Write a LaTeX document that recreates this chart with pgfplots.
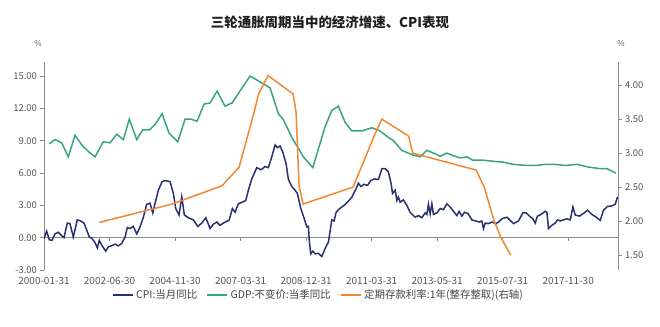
\documentclass[border=0pt]{standalone}
\usepackage{fontspec}
\setmainfont{Noto Sans CJK SC}
\usepackage{pgfplots}
\usepackage{pgfplotstable}
\pgfplotsset{compat=1.18}
\definecolor{cpi}{HTML}{2B306E}
\definecolor{gdp}{HTML}{38A480}
\definecolor{depo}{HTML}{F08832}
\definecolor{axisgray}{HTML}{8C8C8C}
\definecolor{tickgray}{HTML}{555555}
\definecolor{leggray}{HTML}{444444}

% x = position on the category axis (one unit = one labelled tick interval)
\pgfplotstableread{
x y
0.000 -0.10
0.041 0.60
0.081 -0.20
0.122 -0.25
0.168 0.35
0.218 0.50
0.285 0.10
0.305 0.00
0.356 1.35
0.397 1.30
0.447 0.05
0.508 1.65
0.560 1.55
0.611 1.35
0.652 0.70
0.692 0.05
0.728 -0.05
0.779 -0.45
0.814 -0.95
0.844 -0.25
0.881 -0.70
0.942 -1.25
0.982 -0.85
1.034 -0.75
1.084 -0.60
1.134 -0.75
1.186 -0.55
1.237 0.05
1.272 0.95
1.313 0.85
1.363 1.05
1.415 0.35
1.466 1.00
1.516 1.90
1.568 3.10
1.618 3.20
1.660 2.30
1.695 3.20
1.745 4.40
1.802 5.20
1.847 5.30
1.924 5.20
1.974 4.10
2.011 2.70
2.061 2.10
2.102 3.80
2.142 2.10
2.203 1.85
2.279 1.65
2.347 1.05
2.408 1.35
2.469 1.85
2.534 0.85
2.585 1.25
2.637 1.45
2.687 1.15
2.763 1.45
2.824 1.60
2.875 2.70
2.916 2.35
2.966 3.15
3.027 3.30
3.079 3.45
3.119 4.40
3.171 5.45
3.247 6.50
3.313 6.30
3.374 6.60
3.424 6.50
3.476 7.50
3.527 8.60
3.562 8.35
3.603 8.50
3.644 7.95
3.695 6.85
3.730 5.40
3.782 4.75
3.832 4.40
3.867 4.10
3.919 2.70
3.959 2.00
4.011 1.00
4.035 1.05
4.050 -0.40
4.072 -1.50
4.102 -1.25
4.137 -1.50
4.188 -1.45
4.240 -1.75
4.290 -1.00
4.341 -0.40
4.392 1.65
4.427 1.55
4.458 2.35
4.493 2.60
4.545 2.85
4.580 3.00
4.631 3.30
4.698 3.75
4.763 4.55
4.798 5.05
4.835 4.75
4.885 4.95
4.936 4.85
4.988 5.30
5.038 5.45
5.104 5.40
5.156 6.40
5.206 6.40
5.256 6.10
5.298 5.00
5.318 4.10
5.359 4.40
5.385 3.45
5.409 3.75
5.435 3.30
5.485 3.50
5.537 3.00
5.588 2.35
5.664 1.90
5.715 2.05
5.766 1.85
5.817 2.30
5.843 2.15
5.867 3.10
5.893 2.20
5.919 3.15
5.944 2.15
5.995 2.30
6.046 2.70
6.096 2.60
6.148 3.15
6.198 2.85
6.249 2.45
6.301 2.05
6.336 2.45
6.377 2.00
6.417 2.35
6.469 2.25
6.530 1.65
6.591 1.55
6.641 1.45
6.682 1.55
6.707 0.85
6.733 1.35
6.783 1.30
6.835 1.45
6.896 1.30
6.936 1.45
6.988 1.75
7.064 1.90
7.165 1.30
7.241 1.55
7.308 2.30
7.359 2.30
7.409 2.00
7.461 1.75
7.496 1.35
7.531 2.00
7.583 2.15
7.649 2.45
7.675 2.35
7.699 0.85
7.751 1.15
7.802 1.35
7.837 1.65
7.878 1.55
7.928 1.65
7.980 1.75
8.031 1.65
8.072 2.85
8.107 2.10
8.173 2.00
8.234 2.25
8.295 2.55
8.362 2.15
8.427 1.90
8.489 1.60
8.539 2.55
8.600 2.90
8.667 2.95
8.718 3.10
8.753 3.80
}\cpitable

\pgfplotstableread{
x y
0.081 8.7
0.168 9.1
0.270 8.8
0.371 7.5
0.473 9.5
0.576 8.6
0.676 8.0
0.779 7.5
0.905 8.9
1.008 8.8
1.110 9.6
1.211 9.1
1.302 11.0
1.415 9.1
1.507 10.0
1.608 10.0
1.695 10.5
1.802 11.5
1.908 9.7
2.041 8.9
2.153 11.0
2.244 11.0
2.336 10.8
2.443 12.4
2.534 12.5
2.641 13.6
2.763 12.2
2.870 12.5
3.145 15.0
3.450 13.9
3.577 11.5
3.653 10.95
3.782 9.3
3.959 7.5
4.102 6.5
4.290 10.3
4.392 11.8
4.493 12.2
4.595 10.7
4.698 9.9
4.850 9.9
5.003 10.2
5.130 9.9
5.256 9.3
5.333 9.0
5.461 8.1
5.614 7.7
5.740 7.5
5.843 8.1
5.944 7.85
6.046 7.55
6.148 7.85
6.249 7.6
6.351 7.4
6.453 7.5
6.539 7.2
6.682 7.2
6.835 7.1
7.012 7.0
7.165 6.8
7.369 6.7
7.496 6.7
7.649 6.8
7.802 6.8
7.954 6.7
8.133 6.8
8.310 6.55
8.489 6.4
8.591 6.4
8.728 6.0
}\gdptable

\pgfplotstableread{
x y
0.844 1.98
1.954 2.25
2.718 2.52
2.977 2.79
3.053 3.06
3.130 3.33
3.206 3.60
3.275 3.87
3.420 4.14
3.802 3.87
3.847 3.60
3.893 2.52
3.954 2.25
4.718 2.50
4.824 2.75
4.931 3.00
5.038 3.25
5.156 3.50
5.565 3.25
5.626 3.00
6.595 2.75
6.718 2.50
6.794 2.25
6.870 2.00
6.977 1.75
7.122 1.50
}\depotable

\begin{document}
\begin{tikzpicture}
\useasboundingbox (0,0) rectangle (660bp,327bp);
\node[font=\fontsize{13.5}{15}\selectfont\bfseries, text=black!88] at (330bp,305bp) {三轮通胀周期当中的经济增速、CPI表现};
\node[font=\fontsize{8}{9}\selectfont, text=tickgray] at (38bp,283bp) {\%};
\node[font=\fontsize{8}{9}\selectfont, text=tickgray] at (621bp,283bp) {\%};

\begin{axis}[
  at={(44bp,57bp)}, anchor=south west,
  scale only axis, width=574bp, height=208bp,
  xmin=0, xmax=8.76, ymin=-3, ymax=16.3,
  axis x line*=bottom, axis y line*=left,
  x axis line style={draw=none},
  y axis line style={draw=axisgray, line width=0.8bp},
  xtick={0,1,2,3,4,5,6,7,8},
  xticklabels={2000-01-31,2002-06-30,2004-11-30,2007-03-31,2008-12-31,2011-03-31,2013-05-31,2015-07-31,2017-11-30},
  x tick style={draw=none},
  ytick={-3,0,3,6,9,12,15},
  y tick style={draw=axisgray, line width=0.8bp},
  tick align=outside, major tick length=3.5bp,
  xticklabel style={font=\fontsize{10}{11}\selectfont, text=tickgray},
  yticklabel style={font=\fontsize{9.5}{10}\selectfont, text=tickgray},
  /pgf/number format/fixed, /pgf/number format/fixed zerofill,
  /pgf/number format/precision=2, /pgf/number format/assume math mode=true,
  legend style={at={(0.478,-0.12)}, anchor=center, draw=none, fill=none,
    font=\fontsize{10.5}{12}\selectfont, text=leggray,
    /tikz/every even column/.append style={column sep=7bp}},
  legend columns=3,
  legend image code/.code={\draw[#1, line width=2.4bp] (0bp,0bp) -- (20bp,0bp);},
]
\draw[axisgray, line width=0.8bp] (axis cs:0,0) -- (axis cs:8.76,0);
\pgfplotsinvokeforeach{1,...,8}{\draw[axisgray, line width=0.8bp] (axis cs:#1,0) -- ++(0bp,-3.5bp);}
\addplot[color=cpi, line width=1.5bp, no markers] table[x=x,y=y] {\cpitable};
\addlegendentry{CPI:当月同比}
\addplot[color=gdp, line width=1.5bp, no markers] table[x=x,y=y] {\gdptable};
\addlegendentry{GDP:不变价:当季同比}
\addlegendimage{color=depo, line width=1.5bp}
\addlegendentry{定期存款利率:1年(整存整取)(右轴)}
\end{axis}

\begin{axis}[
  at={(44bp,57bp)}, anchor=south west,
  scale only axis, width=574bp, height=208bp,
  xmin=0, xmax=8.76, ymin=1.28, ymax=4.34,
  axis x line=none, axis y line*=right,
  y axis line style={draw=axisgray, line width=0.8bp},
  ytick={1.5,2,2.5,3,3.5,4},
  y tick style={draw=axisgray, line width=0.8bp},
  tick align=outside, major tick length=3.5bp,
  yticklabel style={font=\fontsize{9.5}{10}\selectfont, text=tickgray},
  /pgf/number format/fixed, /pgf/number format/fixed zerofill,
  /pgf/number format/precision=2, /pgf/number format/assume math mode=true,
]
\addplot[color=depo, line width=1.5bp, no markers] table[x=x,y=y] {\depotable};
\end{axis}
\end{tikzpicture}
\end{document}
